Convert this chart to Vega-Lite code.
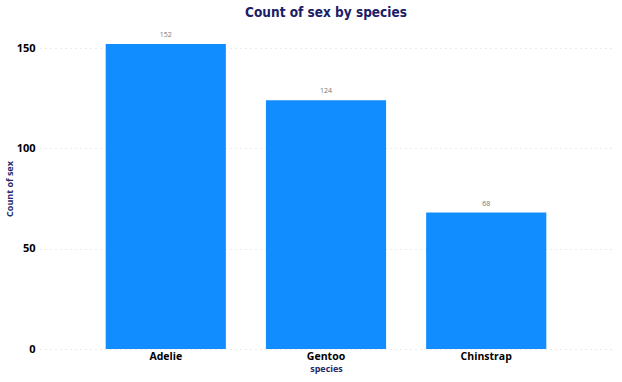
{
  "$schema": "https://vega.github.io/schema/vega-lite/v6.json",
  "autosize": {"type": "none"},
  "padding": {"left": 40, "top": 28, "right": 10, "bottom": 33},
  "width": 572,
  "height": 321,
  "background": "white",
  "title": {
    "text": "Count of sex by species",
    "font": "DejaVu Sans Condensed, Roboto, sans-serif",
    "fontSize": 13.5,
    "fontWeight": "bold",
    "color": "#1b2066",
    "anchor": "middle",
    "offset": 9
  },
  "data": {
    "values": [
      {"species": "Adelie", "count": 152},
      {"species": "Gentoo", "count": 124},
      {"species": "Chinstrap", "count": 68}
    ]
  },
  "encoding": {
    "x": {
      "field": "species",
      "type": "nominal",
      "sort": null,
      "scale": {"paddingInner": 0.25, "paddingOuter": 0.41},
      "axis": {
        "title": "species",
        "labelAngle": 0,
        "labelFont": "Open Sans",
        "labelFontSize": 10.5,
        "labelFontWeight": "bold",
        "labelColor": "#000000",
        "labelPadding": 2,
        "titleFont": "Open Sans",
        "titleFontSize": 9,
        "titleFontWeight": "bold",
        "titleColor": "#252a6b",
        "titlePadding": 3,
        "domain": false,
        "ticks": false
      }
    },
    "y": {
      "field": "count",
      "type": "quantitative",
      "scale": {"domain": [0, 160], "nice": false},
      "axis": {
        "title": "Count of sex",
        "values": [0, 50, 100, 150],
        "labelFont": "Open Sans",
        "labelFontSize": 11,
        "labelFontWeight": "bold",
        "labelColor": "#000000",
        "labelPadding": 5,
        "titleFont": "Open Sans",
        "titleFontSize": 9,
        "titleFontWeight": "bold",
        "titleColor": "#252a6b",
        "titlePadding": 2,
        "domain": false,
        "ticks": false,
        "grid": true,
        "gridColor": "#d9d9d9",
        "gridDash": [1, 4]
      }
    }
  },
  "layer": [
    {"mark": {"type": "bar", "color": "#118DFF"}},
    {
      "mark": {"type": "text", "dy": -6, "fontSize": 7, "color": "#777777", "font": "Open Sans", "baseline": "bottom"},
      "encoding": {"text": {"field": "count", "type": "quantitative"}}
    }
  ],
  "config": {"view": {"stroke": null}}
}
